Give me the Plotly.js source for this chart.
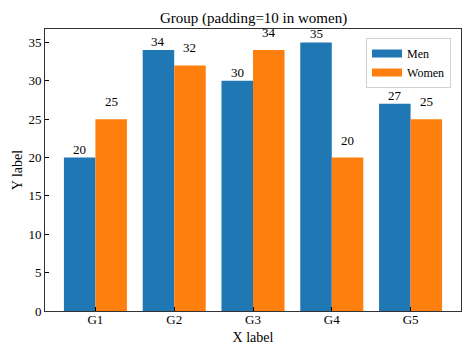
<!DOCTYPE html>
<html>
<head>
<meta charset="utf-8">
<script src="https://cdn.plot.ly/plotly-3.0.1.min.js"></script>
<style>
  html, body { margin: 0; padding: 0; background: #fff; }
  #chart { width: 474px; height: 355px; }
</style>
</head>
<body>
<div id="chart"></div>
<script>
// Grouped bar chart data
const groups = ['G1', 'G2', 'G3', 'G4', 'G5'];
const men = [20, 34, 30, 35, 27];
const women = [25, 32, 34, 20, 25];
const seriesNames = ['Men', 'Women'];
const colors = ['#1f77b4', '#ff7f0e'];

const barWidth = 0.4;
const positions = groups.map((_, i) => i);
const serif = '"Liberation Serif", "Times New Roman", serif';

const traces = [
  {
    type: 'bar', name: seriesNames[0], x: positions, y: men,
    width: barWidth, offset: -barWidth, showlegend: false,
    marker: { color: colors[0] }, hoverinfo: 'y'
  },
  {
    type: 'bar', name: seriesNames[1], x: positions, y: women,
    width: barWidth, offset: 0, showlegend: false,
    marker: { color: colors[1] }, hoverinfo: 'y'
  }
];
// wide flat legend swatches
seriesNames.forEach((n, k) => traces.push({
  type: 'scatter', mode: 'lines', name: n, x: [null], y: [null],
  line: { color: colors[k], width: 8 }, hoverinfo: 'skip'
}));

// value labels above each bar; women's labels sit further up
const annotations = [];
men.forEach((v, i) => annotations.push({
  x: i - barWidth / 2, y: v, text: String(v), showarrow: false,
  xanchor: 'center', yanchor: 'bottom', yshift: 0, borderpad: 0,
  font: { family: serif, size: 13, color: '#000' }
}));
women.forEach((v, i) => annotations.push({
  x: i + barWidth / 2, y: v, text: String(v), showarrow: false,
  xanchor: 'center', yanchor: 'bottom', yshift: 9, borderpad: 0,
  font: { family: serif, size: 13, color: '#000' }
}));

const layout = {
  width: 474, height: 355,
  margin: { l: 45, r: 13, t: 29, b: 44 },
  paper_bgcolor: '#fff', plot_bgcolor: '#fff',
  font: { family: serif, size: 13, color: '#000' },
  title: {
    text: 'Group (padding=10 in women)',
    font: { family: serif, size: 15, color: '#000' },
    x: 0.535, xanchor: 'center', y: 0.95, yanchor: 'middle'
  },
  showlegend: true,
  legend: {
    x: 0.976, y: 0.968, xanchor: 'right', yanchor: 'top',
    bgcolor: 'rgba(255,255,255,0.8)', bordercolor: '#d0d0d0', borderwidth: 1,
    font: { family: serif, size: 12, color: '#000' },
    traceorder: 'normal', tracegroupgap: 0
  },
  xaxis: {
    range: [-0.64, 4.64],
    tickmode: 'array', tickvals: positions, ticktext: groups,
    ticks: 'inside', ticklen: 4, tickcolor: '#000',
    ticklabelstandoff: -4,
    showline: true, linecolor: '#333', linewidth: 1, mirror: true,
    showgrid: false, zeroline: false,
    tickfont: { family: serif, size: 13, color: '#000' },
    title: { text: 'X label', font: { family: serif, size: 14, color: '#000' }, standoff: 6 }
  },
  yaxis: {
    range: [0, 36.75],
    tickmode: 'array', tickvals: [0, 5, 10, 15, 20, 25, 30, 35],
    ticks: 'inside', ticklen: 4, tickcolor: '#000',
    showline: true, linecolor: '#333', linewidth: 1, mirror: true,
    showgrid: false, zeroline: false,
    tickfont: { family: serif, size: 13, color: '#000' },
    title: { text: 'Y label', font: { family: serif, size: 14, color: '#000' }, standoff: 2 }
  },
  annotations: annotations
};

Plotly.newPlot('chart', traces, layout, { displayModeBar: false, staticPlot: true });
</script>
</body>
</html>
